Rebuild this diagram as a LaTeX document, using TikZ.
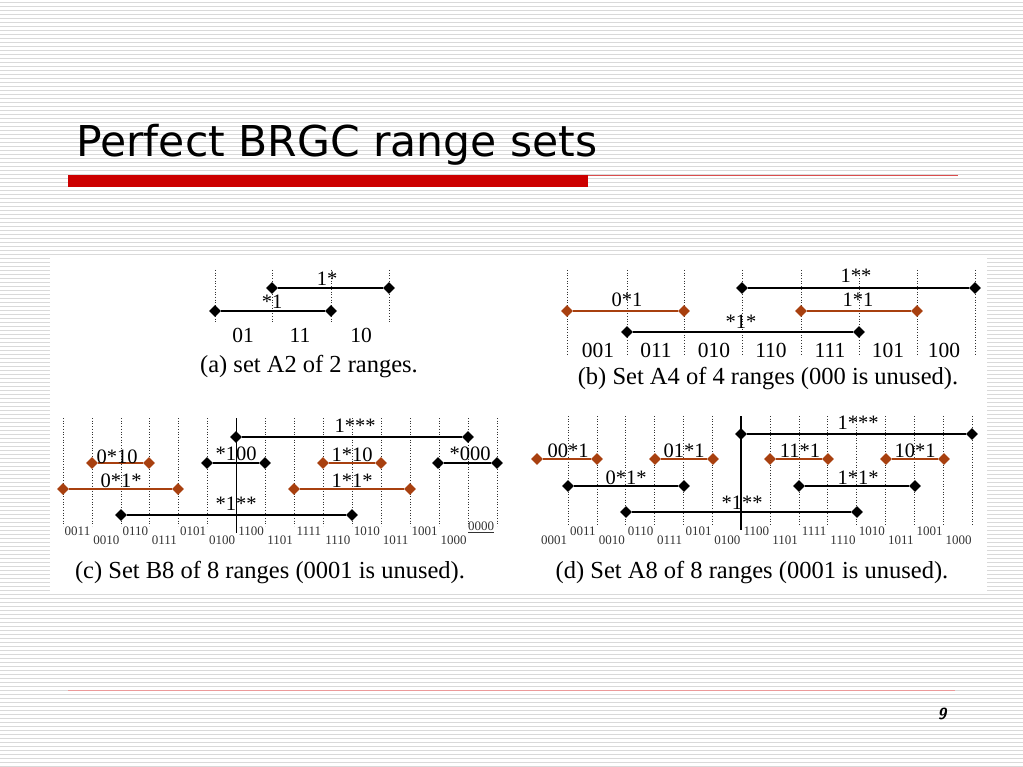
\documentclass[tikz,border=0pt]{standalone}
\usepackage{fontspec}
\setmainfont{Liberation Serif}
\newfontfamily\titlefont{DejaVu Sans}
\usetikzlibrary{shapes.geometric}
\definecolor{brn}{HTML}{A8400F}
\definecolor{redbar}{HTML}{CC0000}
\tikzset{
 dm/.style={diamond,inner sep=0,minimum size=12pt},
 lab/.style={font=\fontsize{20.5}{20}\selectfont,inner sep=0},
 capt/.style={font=\fontsize{24.5}{24}\selectfont,inner sep=0},
 tiny/.style={font=\fontsize{13}{13}\selectfont,inner sep=0,text=black!80},
 mid/.style={font=\fontsize{21.5}{21}\selectfont,inner sep=0},
 dl/.style={dotted,line width=0.7pt,black!80},
}
\newcommand\rng[5]{%
 \node[dm,fill=#4] (#5a) at (#1,#3) {};
 \node[dm,fill=#4] (#5b) at (#2,#3) {};
 \draw[#4,line width=1.6pt] (#5a)--(#5b);}
\begin{document}
\begin{tikzpicture}[x=1pt,y=-1pt]
\useasboundingbox (0,0) rectangle (1023,767);
\fill[white] (0,0) rectangle (1023,767);
\foreach \y in {2,6,...,766} \draw[black!15,line width=0.9pt] (0,\y)--(1023,\y);
\fill[white] (50,258) rectangle (987,593);
% title
\node[anchor=base west,inner sep=0,font=\titlefont\fontsize{42.5}{42}\selectfont] (title) at (76,157) {Perfect BRGC range sets};
\fill[redbar] (68,175) rectangle (588,187);
\draw[redbar!70,line width=1pt] (588,175.5)--(958,175.5);
\draw[redbar!40,line width=0.8pt] (68,690)--(955,690);
\node[font=\sffamily\bfseries\itshape\fontsize{16}{16}\selectfont,inner sep=0] (pg) at (942,714) {9};
% panel a
\foreach \x in {215,272,331,389} \draw[dl] (\x,270)--(\x,323);
\rng{272}{389}{288}{black}{a1}
\rng{215}{331}{311}{black}{a2}
\node[lab] (la1) at (327,279) {1*};
\node[lab] (la2) at (272,302) {*1};
\node[mid] (b1) at (243,335) {01};
\node[mid] (b2) at (300,335) {11};
\node[mid] (b3) at (361,335) {10};
\node[capt] (capa) at (309,367) {(a) set A2 of 2 ranges.};
% panel b
\foreach \x in {567,627,684,742,801,859,917,975} \draw[dl] (\x,270)--(\x,356);
\rng{742}{975}{288}{black}{b1}
\rng{567}{684}{311}{brn}{b2}
\rng{801}{917}{311}{brn}{b3}
\rng{627}{859}{332}{black}{b4}
\node[lab] (lb1) at (856,276) {1**};
\node[lab] (lb2) at (627,300) {0*1};
\node[lab] (lb3) at (858,300) {1*1};
\node[lab] (lb4) at (741,322) {*1*};
\foreach \t/\x in {001/598,011/656,010/714,110/771,111/830,101/888,100/944}
  \node[mid] at (\x,350) {\t};
\node[capt] (capb) at (768,379) {(b) Set A4 of 4 ranges (000 is unused).};
% panel c
\foreach \i in {0,...,15} {\pgfmathsetmacro\xx{63+28.93*\i}
  \ifnum\i=6 \draw[line width=1.6pt] (\xx,418)--(\xx,533);
  \else \draw[dl] (\xx,418)--(\xx,526);\fi}
\rng{236}{468}{437}{black}{c1}
\rng{92}{149}{463}{brn}{c2}
\rng{207}{265}{463}{black}{c3}
\rng{323}{381}{463}{brn}{c4}
\rng{438}{497}{463}{black}{c5}
\rng{63}{178}{489}{brn}{c6}
\rng{294}{410}{489}{brn}{c7}
\rng{121}{352}{515}{black}{c8}
\node[lab] at (355,426) {1***};
\node[lab] at (117,457) {0*10};
\node[lab] at (236,454) {*100};
\node[lab] at (352,455) {1*10};
\node[lab] at (470,454) {*000};
\node[lab] at (121,481) {0*1*};
\node[lab] at (352,481) {1*1*};
\node[lab] at (236,504) {*1**};
\foreach \t [count=\k from 0] in {0011,0010,0110,0111,0101,0100,1100,1101,1111,1110,1010,1011,1001,1000} {
  \pgfmathsetmacro\xx{77.5+28.93*\k}
  \pgfmathsetmacro\yy{isodd(\k)?540:531}
  \node[tiny] at (\xx,\yy) {\t};}
\node[tiny] (zz) at (481,527) {\underline{0000}};
\node[capt] (capc) at (270,573) {(c) Set B8 of 8 ranges (0001 is unused).};
% panel d
\foreach \i in {0,...,14} {\pgfmathsetmacro\xx{568+28.86*\i}
  \ifnum\i=6 \draw[line width=1.6pt] (\xx,416)--(\xx,530);
  \else \draw[dl] (\xx,416)--(\xx,526);\fi}
\rng{741}{972}{434}{black}{d1}
\rng{537}{597}{459}{brn}{d2}
\rng{655}{713}{459}{brn}{d3}
\rng{770}{828}{459}{brn}{d4}
\rng{886}{944}{459}{brn}{d5}
\rng{568}{684}{486}{black}{d6}
\rng{799}{915}{486}{black}{d7}
\rng{626}{857}{512}{black}{d8}
\node[lab] at (858,423) {1***};
\node[lab] at (568,451) {00*1};
\node[lab] at (684,451) {01*1};
\node[lab] at (800,451) {11*1};
\node[lab] at (915,451) {10*1};
\node[lab] at (626,478) {0*1*};
\node[lab] at (858,478) {1*1*};
\node[lab] at (742,503) {*1**};
\foreach \t [count=\k from 0] in {0001,0011,0010,0110,0111,0101,0100,1100,1101,1111,1110,1010,1011,1001,1000} {
  \pgfmathsetmacro\xx{554+28.9*\k}
  \pgfmathsetmacro\yy{isodd(\k)?531:540}
  \node[tiny] at (\xx,\yy) {\t};}
\node[capt] (capd) at (752,573) {(d) Set A8 of 8 ranges (0001 is unused).};
\end{tikzpicture}
\end{document}
